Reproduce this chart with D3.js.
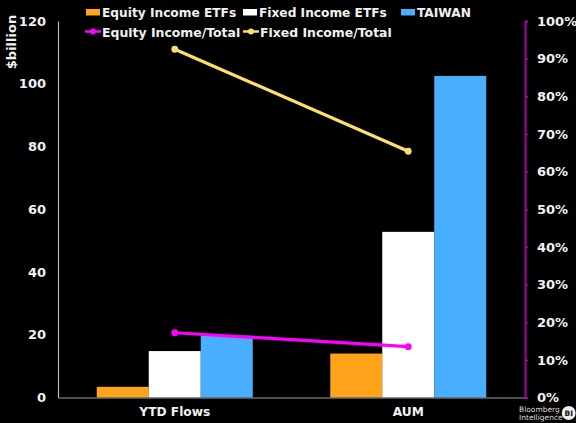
<!DOCTYPE html>
<html><head><meta charset="utf-8">
<script src="https://cdn.jsdelivr.net/npm/d3@7/dist/d3.min.js"></script>
<style>
html,body{margin:0;padding:0;background:#000;overflow:hidden}
text{font-family:"DejaVu Sans",sans-serif;font-weight:bold;fill:#f2f2f2}
</style></head><body>
<svg id="c" width="576" height="423"></svg>
<script>
const categories = ["YTD Flows", "AUM"];
const barSeries = ["Equity Income ETFs", "Fixed Income ETFs", "TAIWAN"];
const equityEtfs = [3.4, 14];
const fixedEtfs = [14.8, 52.8];
const taiwan = [19.7, 102.5];
const equityShare = [17.2, 13.5];
const fixedShare = [92.5, 65.4];
const leftTicks = [0, 20, 40, 60, 80, 100, 120];
const rightTicks = [0, 10, 20, 30, 40, 50, 60, 70, 80, 90, 100];
const barColors = ["#ffa31a", "#ffffff", "#4aaeff"];
const lineColors = ["#ff00ff", "#ffe066"];

const svg = d3.select("#c");
const X0 = 58, X1 = 525, Y0 = 397.5, Y1 = 21;
const x = d3.scaleBand().domain(categories).range([X0, X1]);
const sub = d3.scaleBand().domain(barSeries).range([x.bandwidth()/2 - 78, x.bandwidth()/2 + 78]);
const yL = d3.scaleLinear().domain([0, 120]).range([Y0, Y1]);
const yR = d3.scaleLinear().domain([0, 100]).range([Y0, Y1]);

[equityEtfs, fixedEtfs, taiwan].forEach((vals, s) => {
  svg.append("g").selectAll("rect").data(vals).join("rect")
    .attr("x", (d, i) => x(categories[i]) + sub(barSeries[s]))
    .attr("width", sub.bandwidth())
    .attr("y", d => yL(d))
    .attr("height", d => Y0 - yL(d))
    .attr("fill", barColors[s]);
});

const gL = svg.append("g").attr("transform", `translate(${X0},0)`)
  .call(d3.axisLeft(yL).tickValues(leftTicks).tickSize(0).tickPadding(12));
gL.select(".domain").attr("stroke", "#b8b8b8").attr("stroke-width", 1.2);
gL.selectAll("text").style("font-size", "13px");

const gB = svg.append("g").attr("transform", `translate(0,${Y0})`)
  .call(d3.axisBottom(x).tickSize(0).tickPadding(10));
gB.select(".domain").attr("stroke", "#9a9a9a").attr("stroke-width", 1.2);
gB.selectAll("text").style("font-size", "12.2px");

const gR = svg.append("g").attr("transform", `translate(${X1},0)`)
  .call(d3.axisRight(yR).tickValues(rightTicks).tickSize(3).tickPadding(9).tickFormat(d => d + "%"));
gR.select(".domain").attr("stroke", "#a800a8").attr("stroke-width", 2);
gR.selectAll("line").attr("x1", 0).attr("x2", 3).attr("stroke", "#a800a8").attr("stroke-width", 1.6);
gR.selectAll("text").style("font-size", "13px");

svg.append("text").attr("transform", "translate(16,42) rotate(-90)")
  .attr("text-anchor", "middle").style("font-size", "13px").text("$billion");

const line = d3.line().x((d, i) => x(categories[i]) + x.bandwidth()/2).y(d => yR(d));
[fixedShare, equityShare].forEach((vals, k) => {
  const color = lineColors[k === 0 ? 1 : 0];
  svg.append("path").attr("d", line(vals)).attr("fill", "none").attr("stroke", color).attr("stroke-width", 3.2);
  svg.append("g").selectAll("circle").data(vals).join("circle")
    .attr("cx", (d, i) => x(categories[i]) + x.bandwidth()/2)
    .attr("cy", d => yR(d)).attr("r", 3.4).attr("fill", color);
});

const lg = svg.append("g");
const legendBars = [[86, "Equity Income ETFs", 0], [243, "Fixed Income ETFs", 1], [401, "TAIWAN", 2]];
legendBars.forEach(([lx, label, i]) => {
  lg.append("rect").attr("x", lx).attr("y", 9).attr("width", 14).attr("height", 6.5).attr("fill", barColors[i]);
  lg.append("text").attr("x", lx + 16).attr("y", 17).style("font-size", "12.2px").text(label);
});
const legendLines = [[85, "Equity Income/Total", 0], [243, "Fixed Income/Total", 1]];
legendLines.forEach(([lx, label, i]) => {
  lg.append("line").attr("x1", lx).attr("x2", lx + 16).attr("y1", 31.5).attr("y2", 31.5)
    .attr("stroke", lineColors[i]).attr("stroke-width", 2.5);
  lg.append("circle").attr("cx", lx + 8).attr("cy", 31.5).attr("r", 3).attr("fill", lineColors[i]);
  lg.append("text").attr("x", lx + 17).attr("y", 36.5).style("font-size", "12.45px").text(label);
});

svg.append("text").attr("x", 519).attr("y", 412).style("font-size", "7.5px").style("font-weight", "normal").style("fill", "#ddd").text("Bloomberg");
svg.append("text").attr("x", 519).attr("y", 420).style("font-size", "7.5px").style("font-weight", "normal").style("fill", "#ddd").text("Intelligence");
svg.append("circle").attr("cx", 568.7).attr("cy", 413).attr("r", 7).attr("fill", "#eee");
svg.append("text").attr("x", 568.7).attr("y", 416).attr("text-anchor", "middle").style("font-size", "7.5px").style("fill", "#111").text("BI");
</script>
</body></html>
